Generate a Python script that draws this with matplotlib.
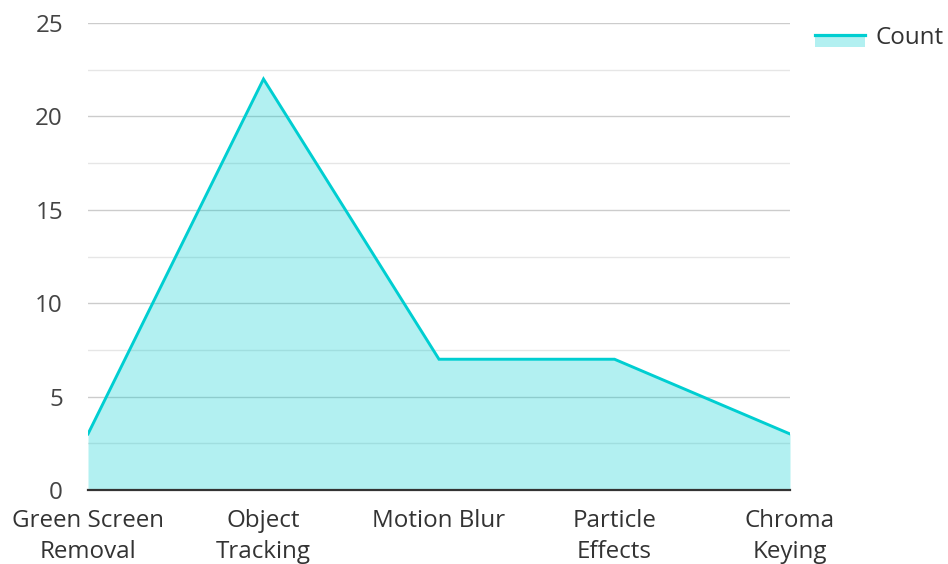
import matplotlib
matplotlib.use("Agg")
import matplotlib.pyplot as plt
from matplotlib.patches import Patch, Rectangle
from matplotlib.lines import Line2D
from matplotlib.legend_handler import HandlerBase
import numpy as np

categories = ["Green Screen\nRemoval", "Object\nTracking", "Motion Blur", "Particle\nEffects", "Chroma\nKeying"]
counts = [3, 22, 7, 7, 3]
series_name = "Count"
yticks = [0, 5, 10, 15, 20, 25]

plt.rcParams['font.family'] = ['Open Sans', 'Noto Sans', 'DejaVu Sans']

line_color = "#00CED1"
FS = 17.4

fig = plt.figure(figsize=(9.48, 5.64), dpi=100)
ax = fig.add_axes([88/948, 1-490/564, (790-88)/948, (490-23)/564])

x = np.arange(len(categories))
ax.fill_between(x, counts, 0, color=line_color, alpha=0.3, linewidth=0, zorder=3)
ax.plot(x, counts, color=line_color, linewidth=2.1, zorder=4, solid_joinstyle='miter')

ax.set_xlim(0, len(categories)-1)
ax.set_ylim(0, 25)
ax.set_yticks(yticks)
ax.set_yticks([2.5, 7.5, 12.5, 17.5, 22.5], minor=True)
ax.set_xticks(x)
ax.set_xticklabels(categories, linespacing=1.38)

ax.set_axisbelow(True)
ax.grid(True, which='major', axis='y', color='#cccccc', linewidth=1.0, zorder=1)
ax.grid(True, which='minor', axis='y', color='#e6e6e6', linewidth=1.0, zorder=1)

for s in ['top', 'right', 'left']:
    ax.spines[s].set_visible(False)
ax.spines['bottom'].set_color('#333333')
ax.spines['bottom'].set_linewidth(1.6)
ax.spines['bottom'].set_zorder(5)

ax.tick_params(axis='both', which='both', length=0)
ax.tick_params(axis='y', labelsize=FS, labelcolor='#444444', pad=18)
ax.tick_params(axis='x', labelsize=FS, labelcolor='#333333', pad=14)

class AreaHandler(HandlerBase):
    def create_artists(self, legend, orig_handle, xdescent, ydescent, width, height, fontsize, trans):
        p = Rectangle((-xdescent, -ydescent - 3), width, height * 0.82,
                      facecolor=line_color, alpha=0.3, linewidth=0, transform=trans)
        l = Line2D([-xdescent, -xdescent + width], [-ydescent - 3 + height * 0.82] * 2, color=line_color,
                   linewidth=2.3, transform=trans)
        return [p, l]

handle = Patch()
leg = fig.legend([handle], [series_name], handler_map={Patch: AreaHandler()},
                 loc='upper left', bbox_to_anchor=(815/948, 1-26/564), frameon=False,
                 borderpad=0, borderaxespad=0,
                 fontsize=FS, handlelength=2.08, handleheight=0.6, handletextpad=0.42)
for t in leg.get_texts():
    t.set_color('#333333')

fig.savefig("out.png", dpi=100)
